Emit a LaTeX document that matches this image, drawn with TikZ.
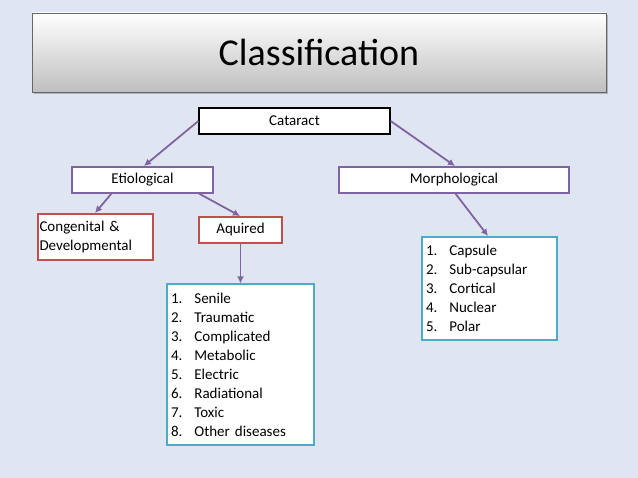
\documentclass[tikz,border=0pt]{standalone}
\usepackage{fontspec}
\setmainfont{Carlito}
\usetikzlibrary{shadows,arrows.meta}
\definecolor{bg}{HTML}{DFE6F1}
\definecolor{arr}{HTML}{8064A2}
\definecolor{redb}{HTML}{C0504D}
\definecolor{tealb}{HTML}{4BACC6}
\begin{document}
\begin{tikzpicture}[x=1pt,y=-1pt,
  box/.style={draw,fill=white,line width=1.2pt,inner sep=0pt},
  con/.style={arr,line width=1.8pt,-{Latex[length=7pt,width=7pt]}},
  txt/.style={font=\fontsize{15}{19}\selectfont,align=left}]
\fill[bg] (0,0) rectangle (638,478);
\useasboundingbox (0,0) rectangle (638,478);
\node[draw=black!60,top color=white,bottom color=black!25,drop shadow,minimum width=574pt,minimum height=79pt,font=\fontsize{38}{42}\selectfont] (title) at (319,52.5) {Classification};
\node[box,draw=black,minimum width=191pt,minimum height=26pt,txt] (cat) at (294.5,121) {Cataract};
\node[box,draw=arr,minimum width=141pt,minimum height=26pt,txt] (eti) at (142.5,180) {Etiological};
\node[box,draw=arr,minimum width=230pt,minimum height=26pt,txt] (mor) at (454,180) {Morphological};
\node[box,draw=redb,minimum width=115pt,minimum height=46pt,txt,text width=112pt] (con) at (95.5,237) {Congenital \&\\ Developmental};
\node[box,draw=redb,minimum width=83pt,minimum height=26pt,txt] (aq) at (240.5,230) {Aquired};
\node[box,draw=tealb,minimum width=147pt,minimum height=161pt,txt,text width=139pt] (l1) at (240.5,364.5) {1.\hspace{12pt}Senile\\2.\hspace{12pt}Traumatic\\3.\hspace{12pt}Complicated\\4.\hspace{12pt}Metabolic\\5.\hspace{12pt}Electric\\6.\hspace{12pt}Radiational\\7.\hspace{12pt}Toxic\\8.\hspace{12pt}Other diseases};
\node[box,draw=tealb,minimum width=135pt,minimum height=103pt,txt,text width=127pt] (l2) at (489.5,288.5) {1.\hspace{12pt}Capsule\\2.\hspace{12pt}Sub-capsular\\3.\hspace{12pt}Cortical\\4.\hspace{12pt}Nuclear\\5.\hspace{12pt}Polar};
\draw[con] (cat.west) -- (144,166);
\draw[con] (cat.east) -- (455,166);
\draw[con] (112,193) -- (95,213);
\draw[con] (198,193) -- (240,216);
\draw[con] (aq.south) -- (l1.north);
\draw[con] (455,193) -- (488,236);
\end{tikzpicture}
\end{document}
